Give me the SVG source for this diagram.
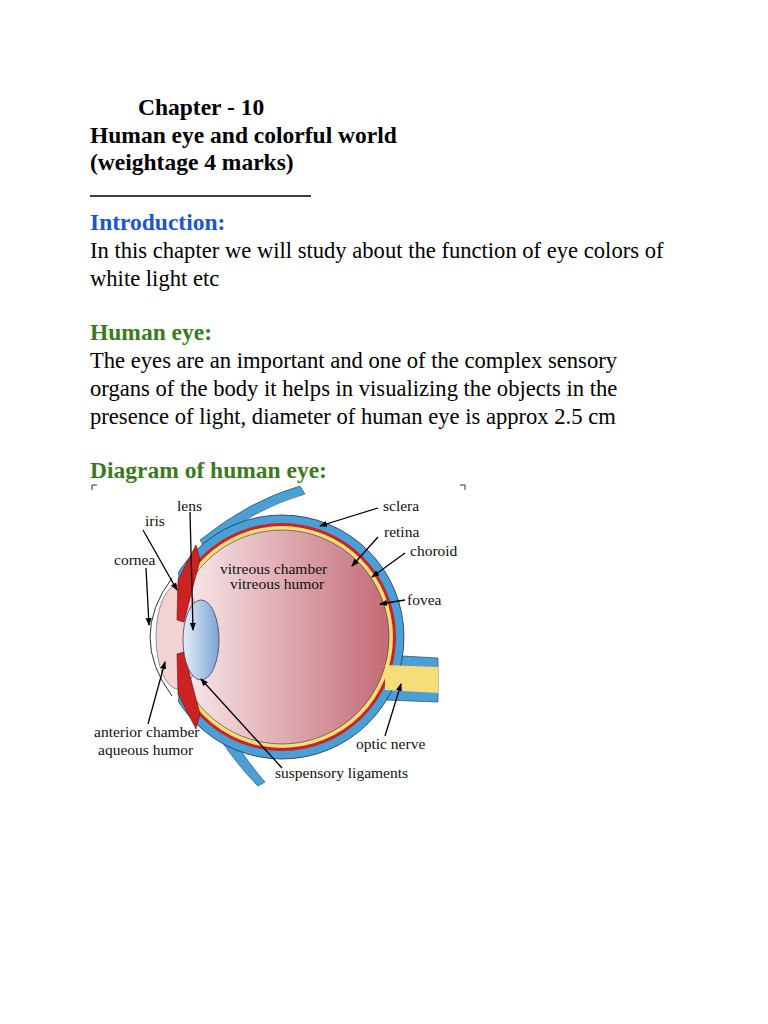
<svg xmlns="http://www.w3.org/2000/svg" width="768" height="1024" viewBox="0 0 768 1024">
<style>
.t{font-family:"Liberation Serif",serif;font-size:22.6px;fill:#000}
.b{font-weight:bold;font-size:23.5px}
.l{font-family:"Liberation Serif",serif;font-size:15.5px;fill:#111}
.a{stroke:#000;stroke-width:1.3;fill:none;marker-end:url(#ah)}
</style>
<defs>
<marker id="ah" markerWidth="8" markerHeight="8" refX="7" refY="4" orient="auto" markerUnits="userSpaceOnUse"><path d="M0,1 L8,4 L0,7z" fill="#000"/></marker>
<linearGradient id="vg" x1="0" x2="1"><stop offset="0" stop-color="#fbeff0"/><stop offset="1" stop-color="#c46a76"/></linearGradient>
<linearGradient id="lg" x1="0" x2="1"><stop offset="0" stop-color="#e6eef8"/><stop offset="1" stop-color="#7ba3d6"/></linearGradient>
<clipPath id="cp"><rect x="178" y="480" width="300" height="320"/></clipPath>
</defs>
<rect width="768" height="1024" fill="#fff"/>
<text class="t b" x="138" y="115">Chapter - 10</text>
<text class="t b" x="90" y="143">Human eye and colorful world</text>
<text class="t b" x="90" y="170">(weightage 4 marks)</text>
<line x1="90" y1="196" x2="311" y2="196" stroke="#000" stroke-width="1.5"/>
<text class="t b" x="90" y="230" style="fill:#2255cc">Introduction:</text>
<text class="t" x="90" y="258">In this chapter we will study about the function of eye colors of</text>
<text class="t" x="90" y="286">white light etc</text>
<text class="t b" x="90" y="340" style="fill:#3a7a20">Human eye:</text>
<text class="t" x="90" y="368">The eyes are an important and one of the complex sensory</text>
<text class="t" x="90" y="396">organs of the body it helps in visualizing the objects in the</text>
<text class="t" x="90" y="424">presence of light, diameter of human eye is approx 2.5 cm</text>
<text class="t b" x="90" y="478" style="fill:#3a7a20">Diagram of human eye:</text>
<g id="eye">
<path d="M92,490 V485 H97 M460,485 H465 V490" stroke="#333" fill="none"/>
<path d="M200,540 Q250,500 300,486 L305,494 Q255,508 205,548z" fill="#4a9fd6" stroke="#245" stroke-width="0.6"/>
<path d="M230,735 Q250,765 265,782 L258,786 Q240,768 222,742z" fill="#4a9fd6" stroke="#245" stroke-width="0.6"/>
<path d="M385,655 L438,658 L438,702 L385,700z" fill="#4a9fd6" stroke="#234" stroke-width="0.6"/>
<g clip-path="url(#cp)">
<circle cx="282" cy="637" r="122" fill="#4a9fd6" stroke="#234" stroke-width="0.8"/>
<circle cx="282" cy="637" r="114" fill="#cc2222"/>
<circle cx="282" cy="637" r="111" fill="#f7dc7a"/>
<circle cx="282" cy="637" r="107" fill="url(#vg)" stroke="#333" stroke-width="0.6"/>
</g>
<path d="M385,665 L438,667 L438,693 L385,690z" fill="#f7dc7a"/>
<ellipse cx="178" cy="637" rx="22" ry="52" fill="#f3d2d4" stroke="#555" stroke-width="0.6"/>
<path d="M172,578 Q128,637 172,696" fill="none" stroke="#333" stroke-width="1"/>
<path d="M178,580 L196,545 L200,560 L190,598 L184,622 L177,620z" fill="#cc2222" stroke="#5a1010" stroke-width="0.6"/>
<path d="M178,694 L196,729 L200,714 L190,676 L184,652 L177,654z" fill="#cc2222" stroke="#5a1010" stroke-width="0.6"/>
<ellipse cx="201" cy="640" rx="18" ry="40" fill="url(#lg)" stroke="#345" stroke-width="0.8"/>
</g>
<g id="connectors">
<path class="a" d="M190,512 L193,630"/>
<path class="a" d="M143,530 L177,590"/>
<path class="a" d="M146,568 L149,625"/>
<path class="a" d="M378,508 L320,526"/>
<path class="a" d="M378,537 L352,566"/>
<path class="a" d="M405,553 L372,577"/>
<path class="a" d="M405,600 L380,604"/>
<path class="a" d="M385,736 L401,684"/>
<path class="a" d="M148,724 L165,662"/>
<path class="a" d="M282,768 L201,679"/>
</g>
<g id="labels">
<text class="l" x="177" y="511">lens</text>
<text class="l" x="145" y="526">iris</text>
<text class="l" x="114" y="565">cornea</text>
<text class="l" x="220" y="574">vitreous chamber</text>
<text class="l" x="230" y="589">vitreous humor</text>
<text class="l" x="383" y="511">sclera</text>
<text class="l" x="384" y="537">retina</text>
<text class="l" x="410" y="556">choroid</text>
<text class="l" x="407" y="605">fovea</text>
<text class="l" x="356" y="749">optic nerve</text>
<text class="l" x="94" y="737">anterior chamber</text>
<text class="l" x="98" y="755">aqueous humor</text>
<text class="l" x="275" y="778">suspensory ligaments</text>
</g>
</svg>
